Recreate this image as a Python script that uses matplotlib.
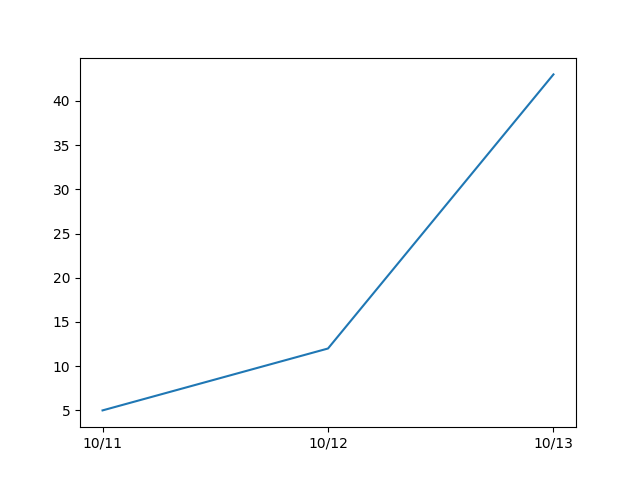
import matplotlib
matplotlib.use("Agg")
import matplotlib.pyplot as plt

# Data
dates = ['10/11', '10/12', '10/13']
values = [5, 12, 43]

plt.figure(figsize=(6.4, 4.8), dpi=100)
plt.plot(dates, values)
plt.savefig('out.png')
